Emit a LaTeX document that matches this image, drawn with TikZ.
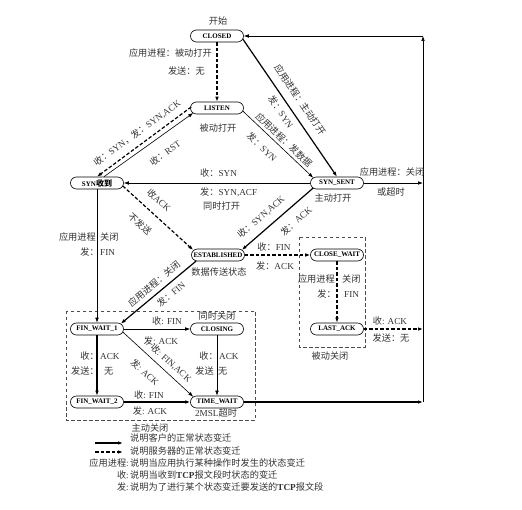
\documentclass[tikz,border=0pt]{standalone}
\usepackage{fontspec}
\setmainfont{Liberation Serif}
\newfontfamily\cjk{Noto Sans CJK SC}
\usetikzlibrary{arrows.meta,calc}
\newcommand{\zh}[1]{{\cjk #1}}
\tikzset{
  st/.style={draw=black, line width=0.6pt, rounded corners=6pt, minimum width=53pt,
    minimum height=12pt, inner sep=0pt, fill=white, font=\fontsize{7}{8}\selectfont\bfseries},
  lab/.style={font=\fontsize{9.2}{10}\selectfont, text=black!80, inner sep=0pt},
  thickar/.style={line width=1.2pt, -{Latex[length=5pt,width=3.6pt]}},
  thinar/.style={line width=0.6pt, -{Latex[length=5pt,width=3.6pt]}},
  dashar/.style={line width=1.2pt, dash pattern=on 3.5pt off 2pt, -{Latex[length=5pt,width=3.6pt]}},
  grp/.style={draw=black!70, line width=0.6pt, dash pattern=on 3.5pt off 2.5pt}
}
\begin{document}
\begin{tikzpicture}[x=1pt,y=-1pt]
\useasboundingbox (0,0) rectangle (522,510);
% states
\node[lab] (start) at (218,21) {\zh{开始}};
\node[st] (closed) at (217,36) {CLOSED};
\node[st] (listen) at (217,108) {LISTEN};
\node[st] (synrcvd) at (97,183) {SYN\zh{\fontsize{8}{8}\selectfont 收到}};
\node[st] (synsent) at (337,183) {SYN\_SENT};
\node[st] (estab) at (218,255) {ESTABLISHED};
\node[st] (closewait) at (337,255) {CLOSE\_WAIT};
\node[st] (lastack) at (337,329) {LAST\_ACK};
\node[st] (finwait1) at (97,329) {FIN\_WAIT\_1};
\node[st] (closing) at (217,329) {CLOSING};
\node[st] (finwait2) at (97,402) {FIN\_WAIT\_2};
\node[st] (timewait) at (217,402) {TIME\_WAIT};
\coordinate (rt) at (423,36);
\coordinate (rs) at (423,183);
\coordinate (rl) at (423,329);
\coordinate (rb) at (423,402);
% groups
\draw[grp] (66,311) rectangle (255,420);
\draw[grp] (299,237) rectangle (365,347);
% edges
\draw[dashar] (closed.south) -- (listen.north);
\draw[thickar] ($(closed.east)+(-1,3)$) -- (synsent.north);
\draw[thinar] ($(listen.east)+(-1,3)$) -- ($(synsent.north west)+(3,1)$);
\draw[dashar] ($(listen.west)+(1,-1)$) -- (synrcvd.north);
\draw[thinar] ($(synrcvd.north)+(7,0)$) -- ($(listen.west)+(3,5)$);
\draw[thinar] (synsent.west) -- (synrcvd.east);
\draw[dashar] ($(synrcvd.east)+(-1,3)$) -- ($(estab.west)+(2,-5)$);
\draw[thickar] ($(synsent.west)+(3,5)$) -- ($(estab.east)+(-3,-5)$);
\draw[dashar] (estab.east) -- (closewait.west);
\draw[dashar] (closewait.south) -- (lastack.north);
\draw[dashar] (lastack.east) -- (rl);
\draw[thinar] (synrcvd.south) -- (finwait1.north);
\draw[thickar] ($(estab.west)+(5,6)$) -- ($(finwait1.north east)+(-3,1)$);
\draw[thinar] (finwait1.east) -- (closing.west);
\draw[thinar] ($(finwait1.east)+(-1,3)$) -- ($(timewait.north west)+(3,1)$);
\draw[thickar] (finwait1.south) -- (finwait2.north);
\draw[thinar] (closing.south) -- (timewait.north);
\draw[thickar] (finwait2.east) -- (timewait.west);
\draw[thickar] (timewait.east) -- (rb);
\draw[thinar] (synsent.east) -- (rs);
\draw[thinar] (rb) -- (rt);
\draw[thinar] (rt) -- (closed.east);
% labels
\node[lab,anchor=east] at (212,53) {\zh{应用进程：被动打开}};
\node[lab,anchor=east] at (205,71) {\zh{发送：无}};
\node[lab,rotate=-55.7] at (300,100) {\zh{应用进程：主动打开}};
\node[lab,rotate=-55.7] at (281,112) {\zh{发：}SYN};
\node[lab,rotate=-43.3] at (284,140) {\zh{应用进程：发数据}};
\node[lab,rotate=-43.3] at (262,147) {\zh{发：}SYN};
\node[lab] at (218,128) {\zh{被动打开}};
\node[lab,rotate=36] at (137,133) {\zh{收：}SYN\zh{，发：}SYN,ACK};
\node[lab,rotate=36] at (165,153) {\zh{收：}RST};
\node[lab,anchor=west] at (200,173) {\zh{收：}SYN};
\node[lab,anchor=west] at (200,192) {\zh{发：}SYN,ACF};
\node[lab,anchor=west] at (203,206) {\zh{同时打开}};
\node[lab] at (333,198) {\zh{主动打开}};
\node[lab,rotate=-42] at (159,200) {\zh{收}ACK};
\node[lab,rotate=-42] at (140,224) {\zh{不发送}};
\node[lab,rotate=41] at (261,217) {\zh{收：}SYN,ACK};
\node[lab,rotate=41] at (296,221) {\zh{发：}ACK};
\node[lab] at (219,272) {\zh{数据传送状态}};
\node[lab] at (274,247) {\zh{收：}FIN};
\node[lab] at (275,266) {\zh{发：}ACK};
\node[lab,anchor=east] at (335,279) {\zh{应用进程}};
\node[lab,anchor=west] at (342,279) {\zh{关闭}};
\node[lab,anchor=east] at (336,294) {\zh{发：}};
\node[lab,anchor=west] at (344,294) {FIN};
\node[lab] at (390,321) {\zh{收}: ACK};
\node[lab] at (391,338) {\zh{发送：无}};
\node[lab] at (330,356) {\zh{被动关闭}};
\node[lab,anchor=east] at (96,237) {\zh{应用进程}};
\node[lab,anchor=west] at (100,237) {\zh{关闭}};
\node[lab,anchor=east] at (99,252) {\zh{发：}};
\node[lab,anchor=west] at (100,252) {FIN};
\node[lab,rotate=39.8] at (154,284) {\zh{应用进程：关闭}};
\node[lab,rotate=39.8] at (171,294) {\zh{发：}FIN};
\node[lab] at (167,321) {\zh{收}: FIN};
\node[lab] at (161,341) {\zh{发}: ACK};
\node[lab,rotate=-42] at (171,363) {\zh{收}: FIN,ACK};
\node[lab,rotate=-42] at (145,372) {\zh{发}: ACK};
\node[lab,anchor=east] at (99,356) {\zh{收：}};
\node[lab,anchor=west] at (100,356) {ACK};
\node[lab,anchor=east] at (99,371) {\zh{发送：}};
\node[lab,anchor=west] at (104,371) {\zh{无}};
\node[lab,anchor=east] at (218,356) {\zh{收：}};
\node[lab,anchor=west] at (219,356) {ACK};
\node[lab,anchor=east] at (214,371) {\zh{发送}};
\node[lab,anchor=west] at (218,371) {\zh{无}};
\node[lab] at (149,395) {\zh{收}: FIN};
\node[lab] at (150,411) {\zh{发}: ACK};
\node[lab] at (216,413) {2MSL\zh{超时}};
\node[lab] at (392,172) {\zh{应用进程：关闭}};
\node[lab] at (391,192) {\zh{或超时}};
\node[lab] at (217,316.5) {\zh{同时关闭}};
\node[lab] at (150,428) {\zh{主动关闭}};
% legend
\coordinate (la1) at (95,443); \coordinate (lb1) at (123,443);
\coordinate (la2) at (95,452); \coordinate (lb2) at (123,452);
\draw[thickar] (la1) -- (lb1);
\draw[dashar] (la2) -- (lb2);
\node[lab,anchor=west] at (130,438) {\zh{说明客户的正常状态变迁}};
\node[lab,anchor=west] at (130,451) {\zh{说明服务器的正常状态变迁}};
\node[lab,anchor=east] at (129,463) {\zh{应用进程}:};
\node[lab,anchor=west] at (130,463) {\zh{说明当应用执行某种操作时发生的状态变迁}};
\node[lab,anchor=east] at (129,475) {\zh{收}:};
\node[lab,anchor=west] at (130,475) {\zh{说明当收到}\textbf{TCP}\zh{报文段时状态的变迁}};
\node[lab,anchor=east] at (129,487) {\zh{发}:};
\node[lab,anchor=west] at (130,487) {\zh{说明为了进行某个状态变迁要发送的}\textbf{TCP}\zh{报文段}};
\end{tikzpicture}
\end{document}
